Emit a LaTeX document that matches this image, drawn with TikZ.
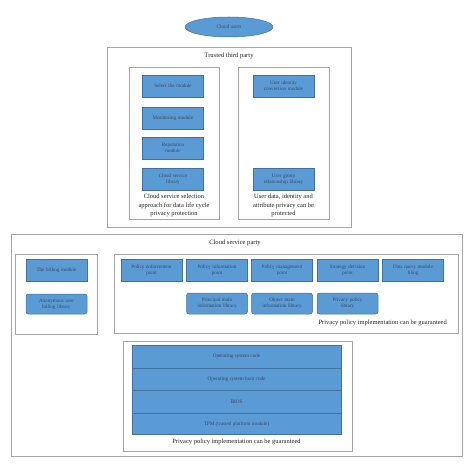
\documentclass[tikz,border=0pt]{standalone}
\usepackage{fontspec}
\setmainfont{Liberation Serif}
\usetikzlibrary{shapes.geometric}
\definecolor{modfill}{HTML}{5B9BD5}
\definecolor{moddraw}{HTML}{41719C}
\definecolor{modtext}{HTML}{3A4A5C}
\definecolor{framec}{HTML}{A6A6A6}
\tikzset{
  frame/.style={draw=framec, line width=0.7bp, fill=white, inner sep=0pt, anchor=north west},
  mod/.style={draw=moddraw, line width=0.5bp, fill=modfill, inner sep=1bp, align=center,
    text=modtext, font=\fontsize{5.1}{5.9}\selectfont, minimum width=61bp, minimum height=22bp, text width=58bp},
  rmod/.style={mod, rounded corners=2.5bp, minimum height=21bp},
  row/.style={draw=moddraw, line width=0.5bp, fill=modfill, inner sep=0pt, align=center,
    text=modtext, font=\fontsize{5.2}{6}\selectfont, minimum width=209bp, minimum height=22.5bp},
  captext/.style={align=center, text=black!85, font=\fontsize{6.5}{8.5}\selectfont, inner sep=0pt},
  titletext/.style={text=black!85, font=\fontsize{6.6}{8}\selectfont, inner sep=0pt}
}
\begin{document}
\begin{tikzpicture}[x=1bp,y=-1bp]
\useasboundingbox (0,0) rectangle (474,474);
\fill[white] (0,0) rectangle (474,474);
% cloud users
\node[ellipse, draw=moddraw, line width=0.5bp, fill=modfill, minimum width=88bp, minimum height=20bp, inner sep=0pt, text=modtext, font=\fontsize{5.2}{6}\selectfont] (users) at (229,27) {Cloud users};
% trusted third party
\node[frame, minimum width=244bp, minimum height=180bp] (ttp) at (107,47) {};
\node[titletext] (ttpt) at (229,56) {Trusted third party};
\node[frame, minimum width=90bp, minimum height=152bp] (lbox) at (129,67) {};
\node[frame, minimum width=91bp, minimum height=152bp] (rbox) at (238,67) {};
\node[mod] (sel) at (173,86) {Select the module};
\node[mod] (mon) at (173,118) {Monitoring module};
\node[mod] (rep) at (173,148) {Reputation\\module};
\node[mod] (lib) at (173,179.5) {Cloud service\\library};
\node[captext] (lcap) at (174,205.5) {Cloud service selection\\approach for data life cycle\\privacy protection};
\node[mod] (uid) at (283.5,86) {User identity\\conversion module};
\node[mod] (ugr) at (283.5,179.5) {User group\\relationship library};
\node[captext] (rcap) at (283.5,205.5) {User data, identity and\\attribute privacy can be\\protected};
% cloud service party
\node[frame, minimum width=451bp, minimum height=222bp] (csp) at (11,234) {};
\node[titletext] (cspt) at (235,243) {Cloud service party};
\node[frame, minimum width=82bp, minimum height=80bp] (bbox) at (15,254) {};
\node[mod] (bill) at (56.5,270.5) {The billing module};
\node[rmod, minimum height=20bp] (anon) at (56.5,304) {Anonymous user\\billing library};
\node[frame, minimum width=344bp, minimum height=79bp] (pbox) at (114,254) {};
\node[mod] (pep) at (151.5,270.5) {Policy enforcement\\point};
\node[mod] (pip) at (217,270.5) {Policy information\\point};
\node[mod] (pmp) at (282,270.5) {Policy management\\point};
\node[mod] (sdp) at (347.5,270.5) {Strategy decision\\point};
\node[mod] (dqm) at (413,270.5) {Data query module\\filing};
\node[rmod] (pml) at (217,303.5) {Principal main\\information library};
\node[rmod] (oml) at (282,303.5) {Object main\\information library};
\node[rmod] (ppl) at (347.5,303.5) {Privacy policy\\library};
\node[captext, anchor=east] (pcap) at (447,323) {Privacy policy implementation can be guaranteed};
% trusted stack
\node[frame, minimum width=229bp, minimum height=110bp] (tbox) at (123,341) {};
\node[row] (osc) at (236.5,356.5) {Operating system code};
\node[row] (osb) at (236.5,379) {Operating system boot code};
\node[row] (bios) at (236.5,401.5) {BIOS};
\node[row, minimum height=21.5bp] (tpm) at (236.5,423.75) {TPM (trusted platform module)};
\node[captext] (tcap) at (236.5,442) {Privacy policy implementation can be guaranteed};
\end{tikzpicture}
\end{document}
